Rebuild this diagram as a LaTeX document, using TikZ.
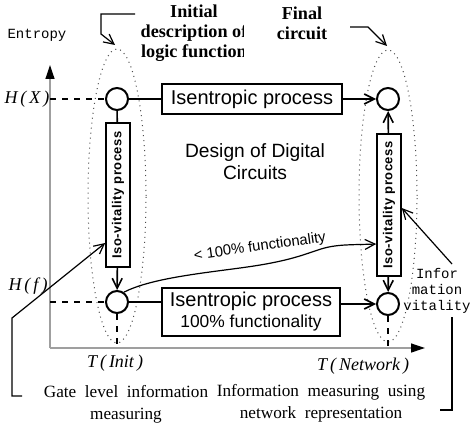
\documentclass[tikz,border=0pt]{standalone}
\usepackage{fontspec}
\setmainfont{Liberation Serif}
\setsansfont{Liberation Sans}
\setmonofont{Liberation Mono}
\usetikzlibrary{arrows.meta}
\tikzset{
  axisline/.style={draw=gray!75, line width=0.6pt},
  axtip/.style={-{Triangle[length=7pt,width=4.5pt,color=black]}},
  circ/.style={circle, draw, line width=1pt, minimum size=11pt, inner sep=0pt},
  pbox/.style={draw, line width=0.8pt, inner sep=0pt, align=center,
    font=\sffamily\fontsize{10}{10.5}\selectfont},
  vbox/.style={draw, line width=0.8pt, inner sep=0pt, minimum width=12pt,
    font=\sffamily\bfseries\fontsize{6.5}{8}\selectfont\addfontfeatures{LetterSpace=4}},
  conn/.style={line width=0.8pt},
  arr/.style={line width=0.8pt, -{Straight Barb[length=5pt,width=5pt]}},
  thin arr/.style={line width=0.6pt, -{Straight Barb[length=5pt,width=5pt]}},
  oval/.style={draw=black!70, dotted, line width=0.5pt},
  lbl/.style={font=\fontsize{9}{10}\selectfont\itshape, inner sep=0pt},
  mono/.style={font=\ttfamily\fontsize{7}{8}\selectfont, inner sep=0pt, align=center},
  head/.style={font=\bfseries\fontsize{9.1}{10}\selectfont, inner sep=0pt, align=center},
  note/.style={font=\fontsize{8.6}{11}\selectfont, inner sep=0pt, align=center},
}
\begin{document}
\begin{tikzpicture}[x=0.5pt, y=-0.5pt]
\useasboundingbox (0,0) rectangle (474,426);

% axes
\coordinate (O) at (50,348);
\coordinate (ytop) at (50,65);
\coordinate (xend) at (425,348);
\draw[axisline, axtip] (O) -- (ytop);
\draw[axisline, axtip] (O) -- (xend);
\node[mono] (entropy) at (37,35) {Entropy};

% ellipses
\draw[oval] (117,196) ellipse [x radius=14.5pt, y radius=73.5pt];
\draw[oval] (388,196) ellipse [x radius=14.5pt, y radius=73pt];

% circles
\node[circ] (c1) at (117,99) {};
\node[circ] (c2) at (388,99) {};
\node[circ] (c3) at (117,302) {};
\node[circ] (c4) at (388,304) {};

% process boxes
\node[pbox, minimum width=90pt, minimum height=15pt] (b1) at (252,99) {Isentropic process};
\node[pbox, minimum width=89pt, minimum height=24pt] (b2) at (251,312)
  {Isentropic process\\{\fontsize{8.7}{10}\selectfont 100\% functionality}};

% vertical boxes
\node[vbox, minimum height=72pt] (v1) at (118,195) {\rotatebox{90}{Iso-vitality process}};
\node[vbox, minimum height=71pt] (v2) at (389,205) {\rotatebox{90}{Iso-vitality process}};

% connectors
\draw[conn] (c1) -- (b1);
\draw[arr] (b1) -- (c2);
\draw[conn] (c3) -- (c3 -| b2.west);
\draw[arr] (c4 -| b2.east) -- (c4);
\draw[conn] (c1) -- (v1);
\draw[arr] (v1) -- (c3);
\draw[arr] (v2) -- (c2);
\draw[arr] (v2) -- (c4);

% axis labels and dashed guides
\node[lbl] (hx) at (27,99) {H\,(\,X\,)};
\node[lbl] (hf) at (28,286) {H\,(\,f\,)};
\coordinate (ahx) at (50,99);
\coordinate (ahf) at (50,302);
\draw[dashed, line width=0.6pt] (ahx) -- (c1);
\draw[dashed, line width=0.6pt] (ahf) -- (c3);
\draw[dashed, line width=0.6pt] (c3) -- (c3 |- O);
\draw[dashed, line width=0.6pt] (c4) -- (c4 |- O);
\node[lbl] (tinit) at (115,363) {T\,(\,Init\,)};
\node[lbl] (tnet) at (363,366) {T\,(\,Network\,)};

% centre text
\node[font=\sffamily\fontsize{9.6}{11}\selectfont, align=center] (design) at (255,162)
  {Design of Digital\\Circuits};
\node[font=\sffamily\fontsize{7.4}{8}\selectfont, rotate=8, inner sep=0pt] (less) at (260,247)
  {< 100\% functionality};

% wavy connector
\coordinate (wend) at (v2.west |- 0,244);
\draw[thin arr] (c3.55) .. controls (150,279) and (195,274) .. (240,268)
  .. controls (285,262) and (300,256) .. (318,250)
  .. controls (335,244) and (350,245) .. (wend);

% information vitality
\node[mono, font=\ttfamily\fontsize{7}{8}\selectfont] (info) at (437,291) {Infor\\mation\\vitality};
\coordinate (ib) at (452,264);
\draw[thin arr] (ib) -- (v2.east |- 0,208);

% top headings
\node[head] (init) at (194,33) {Initial\\description of\\logic function};
\fill[white] (244,0) rectangle (358,62);
\node[head] (final) at (302,23) {Final\\circuit};
\coordinate (la) at (135,14);
\coordinate (ltip) at (115,45);
\draw[thin arr] (la) -- (101,14) -- (101,34) -- (ltip);
\coordinate (ra) at (350,27);
\coordinate (rtip) at (387,46);
\draw[thin arr] (ra) -- (368,27) -- (rtip);

% left bracket
\coordinate (lb) at (22,396);
\draw[thin arr] (lb) -- (12,396) -- (12,318) -- (v1.west |- 0,243);
% right bracket
\coordinate (rb) at (440,410);
\draw[line width=0.6pt] (rb) -- (452,410) -- (452,317);

% bottom notes
\node[note] (gate) at (126,404) {Gate\ \ level\ \ information\\measuring};
\node[note] (netm) at (321,403) {Information\ \ measuring\ \ using\\network\ \ representation};
\end{tikzpicture}
\end{document}
